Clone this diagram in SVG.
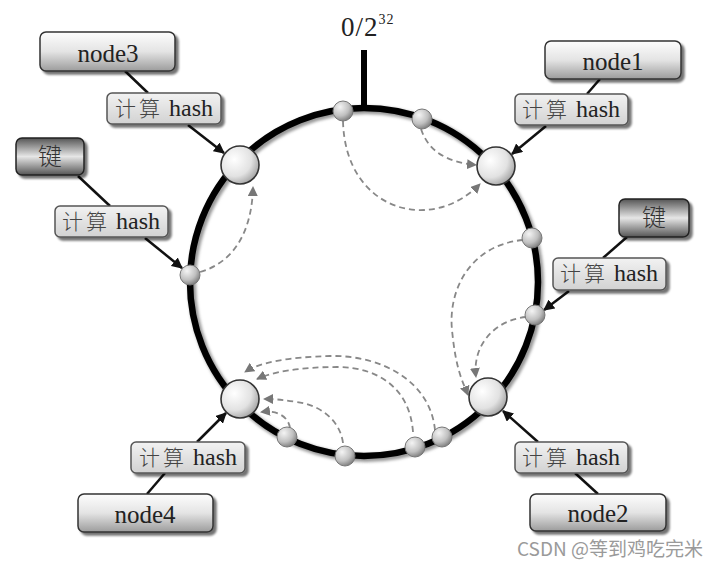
<svg xmlns="http://www.w3.org/2000/svg" width="721" height="567" viewBox="0 0 721 567">
<defs>
<style>
.serif{font-family:"Liberation Serif","Noto Sans CJK SC",serif;fill:#222}
.nlabel{font-size:25px;text-anchor:middle}
.hlabel{font-size:24px;text-anchor:middle}
.cjk{font-family:"Noto Sans CJK SC",sans-serif;font-size:21px;font-weight:300;fill:#444;letter-spacing:3px}
.key{font-family:"Noto Sans CJK SC",sans-serif;font-size:24px;font-weight:300;text-anchor:middle;fill:#333}
.box{fill:url(#gNode);stroke:#333;stroke-width:1.5;filter:url(#sh)}
.hbox{fill:url(#gHash);stroke:#555;stroke-width:1.5;filter:url(#sh)}
.kbox{fill:url(#gKey);stroke:#222;stroke-width:1.5;filter:url(#sh)}
.big{fill:url(#gBig);stroke:#333;stroke-width:1.6}
.small{fill:url(#gSmall);stroke:#777;stroke-width:1}
.link{stroke:#111;stroke-width:2.5;fill:none}
.arr{stroke:#111;stroke-width:2.5;fill:none;marker-end:url(#ab)}
.dash{stroke:#888;stroke-width:1.8;fill:none;stroke-dasharray:6 4;marker-end:url(#ag)}
</style>
<linearGradient id="gNode" x1="0" y1="0" x2="0" y2="1">
<stop offset="0" stop-color="#fdfdfd"/><stop offset="0.5" stop-color="#e4e4e4"/><stop offset="1" stop-color="#9c9c9c"/>
</linearGradient>
<linearGradient id="gHash" x1="0" y1="0" x2="0" y2="1">
<stop offset="0" stop-color="#f2f2f2"/><stop offset="1" stop-color="#d2d2d2"/>
</linearGradient>
<linearGradient id="gKey" x1="0" y1="0" x2="0" y2="1">
<stop offset="0" stop-color="#555"/><stop offset="0.5" stop-color="#e6e6e6"/><stop offset="1" stop-color="#555"/>
</linearGradient>
<radialGradient id="gBig" cx="0.35" cy="0.35" r="0.75">
<stop offset="0" stop-color="#ffffff"/><stop offset="0.6" stop-color="#e2e2e2"/><stop offset="1" stop-color="#9a9a9a"/>
</radialGradient>
<radialGradient id="gSmall" cx="0.35" cy="0.3" r="0.75">
<stop offset="0" stop-color="#f4f4f4"/><stop offset="0.6" stop-color="#c0c0c0"/><stop offset="1" stop-color="#7a7a7a"/>
</radialGradient>
<filter id="sh" x="-20%" y="-30%" width="140%" height="160%">
<feGaussianBlur in="SourceAlpha" stdDeviation="1.2"/>
<feOffset dx="2.5" dy="2.5" result="o"/>
<feComponentTransfer><feFuncA type="linear" slope="0.55"/></feComponentTransfer>
<feMerge><feMergeNode/><feMergeNode in="SourceGraphic"/></feMerge>
</filter>
<filter id="rsh" x="-10%" y="-10%" width="120%" height="120%">
<feGaussianBlur stdDeviation="1.5"/>
</filter>
<marker id="ab" viewBox="0 0 10 10" refX="9" refY="5" markerWidth="11" markerHeight="11" markerUnits="userSpaceOnUse" orient="auto">
<path d="M0,0 L10,5 L0,10 Z" fill="#111"/>
</marker>
<marker id="ag" viewBox="0 0 10 10" refX="9" refY="5" markerWidth="10" markerHeight="10" markerUnits="userSpaceOnUse" orient="auto">
<path d="M0,0 L10,5 L0,10 Z" fill="#777"/>
</marker>
</defs>
<rect width="721" height="567" fill="#fff"/>

<g id="ring">
<circle cx="366" cy="284" r="174" fill="none" stroke="#999" stroke-width="8" filter="url(#rsh)"/>
<circle cx="364" cy="282" r="174" fill="none" stroke="#000" stroke-width="6.5"/>
<line x1="364" y1="50" x2="364" y2="108" stroke="#000" stroke-width="6"/>
<text x="341" y="36" class="serif" font-size="27" letter-spacing="1">0/2<tspan font-size="14" dy="-12">32</tspan></text>
</g>

<g id="connectors">
<line class="link" x1="125" y1="71" x2="148" y2="93"/>
<line class="arr" x1="188" y1="125" x2="224" y2="153"/>
<line class="link" x1="78" y1="176" x2="110" y2="206"/>
<line class="arr" x1="145" y1="238" x2="182" y2="268"/>
<line class="link" x1="600" y1="79" x2="587" y2="94"/>
<line class="arr" x1="546" y1="126" x2="512" y2="154"/>
<line class="link" x1="627" y1="237" x2="603" y2="258"/>
<line class="arr" x1="569" y1="291" x2="544" y2="310"/>
<line class="link" x1="598" y1="494" x2="575" y2="473"/>
<line class="arr" x1="538" y1="442" x2="503" y2="411"/>
<line class="link" x1="147" y1="494" x2="165" y2="473"/>
<line class="arr" x1="197" y1="442" x2="226" y2="413"/>

<path class="dash" d="M343,121 C345,210 430,235 480,184"/>
<path class="dash" d="M421,129 C428,150 445,162 476,165"/>
<path class="dash" d="M200,272 C235,262 252,230 253,187"/>
<path class="dash" d="M523,240 C470,245 448,290 452,330 S462,380 468,395"/>
<path class="dash" d="M526,317 C495,320 472,345 476,377"/>
<path class="dash" d="M435,430 C430,380 380,355 330,356 C290,357 260,362 245,372"/>
<path class="dash" d="M413,432 C410,390 380,367 337,367 C300,367 272,372 257,379"/>
<path class="dash" d="M343,443 C340,420 320,405 297,402 C285,400 275,399 264,399"/>
<path class="dash" d="M290,428 C288,415 275,410 261,412"/>
</g>

<g id="points">
<circle class="small" cx="343" cy="111" r="10"/>
<circle class="small" cx="422" cy="119" r="10"/>
<circle class="small" cx="190" cy="275" r="10"/>
<circle class="small" cx="532" cy="238" r="10"/>
<circle class="small" cx="535" cy="315" r="10"/>
<circle class="small" cx="287" cy="437" r="10"/>
<circle class="small" cx="345" cy="456" r="10"/>
<circle class="small" cx="415" cy="447" r="10"/>
<circle class="small" cx="442" cy="437" r="10"/>
</g>

<g id="ring-node3"><circle class="big" cx="240" cy="165" r="19"/></g>
<g id="ring-node1"><circle class="big" cx="496" cy="166" r="19"/></g>
<g id="ring-node4"><circle class="big" cx="240" cy="399" r="19"/></g>
<g id="ring-node2"><circle class="big" cx="488" cy="397" r="19"/></g>

<g id="node3"><rect class="box" x="40" y="32" width="135" height="39" rx="6"/><text class="serif nlabel" x="108" y="62">node3</text></g>
<g id="node1"><rect class="box" x="545" y="41" width="136" height="38" rx="6"/><text class="serif nlabel" x="613" y="70">node1</text></g>
<g id="node4"><rect class="box" x="78" y="494" width="135" height="38" rx="6"/><text class="serif nlabel" x="145" y="523">node4</text></g>
<g id="node2"><rect class="box" x="530" y="494" width="136" height="37" rx="6"/><text class="serif nlabel" x="598" y="522">node2</text></g>

<g id="key-left"><rect class="kbox" x="16" y="138" width="68" height="37" rx="6"/><text class="key" x="50" y="165">键</text></g>
<g id="key-right"><rect class="kbox" x="619" y="199" width="70" height="38" rx="6"/><text class="key" x="654" y="226">键</text></g>

<g id="hash-node3"><rect class="hbox" x="107" y="93" width="114" height="31" rx="5"/><text class="serif hlabel" x="164" y="116"><tspan class="cjk">计算</tspan> hash</text></g>
<g id="hash-key-left"><rect class="hbox" x="55" y="206" width="113" height="31" rx="5"/><text class="serif hlabel" x="111" y="229"><tspan class="cjk">计算</tspan> hash</text></g>
<g id="hash-node1"><rect class="hbox" x="515" y="94" width="113" height="31" rx="5"/><text class="serif hlabel" x="571" y="117"><tspan class="cjk">计算</tspan> hash</text></g>
<g id="hash-key-right"><rect class="hbox" x="553" y="258" width="113" height="32" rx="5"/><text class="serif hlabel" x="609" y="281"><tspan class="cjk">计算</tspan> hash</text></g>
<g id="hash-node2"><rect class="hbox" x="515" y="442" width="113" height="31" rx="5"/><text class="serif hlabel" x="571" y="465"><tspan class="cjk">计算</tspan> hash</text></g>
<g id="hash-node4"><rect class="hbox" x="131" y="442" width="114" height="31" rx="5"/><text class="serif hlabel" x="188" y="465"><tspan class="cjk">计算</tspan> hash</text></g>

<text x="703" y="556" text-anchor="end" font-family="'Noto Sans CJK SC',sans-serif" font-size="19" fill="#9a9a9a">CSDN @等到鸡吃完米</text>
</svg>
